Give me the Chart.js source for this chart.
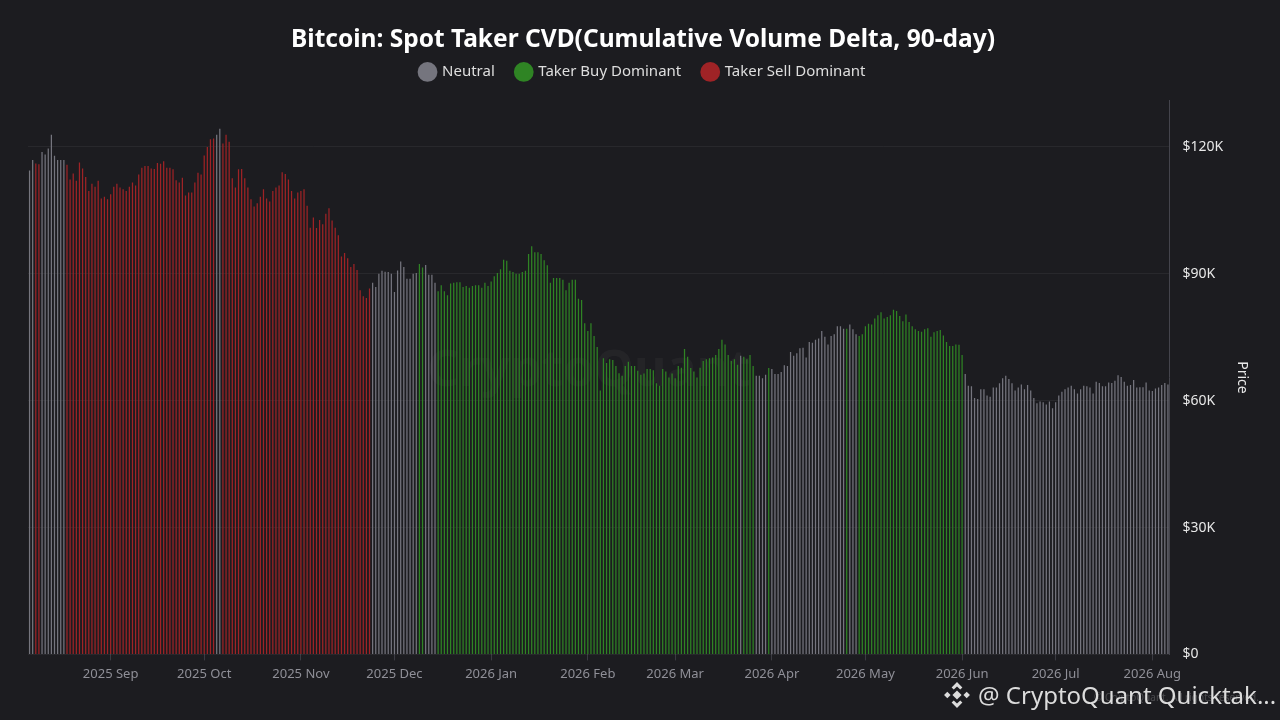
<!DOCTYPE html>
<html>
<head>
<meta charset="utf-8">
<title>Bitcoin: Spot Taker CVD</title>
<script src="https://cdn.jsdelivr.net/npm/chart.js@4.4.1/dist/chart.umd.min.js"></script>
<style>
  html, body { margin: 0; padding: 0; background: #1c1c20; }
  #wrap { position: relative; width: 1280px; height: 720px; overflow: hidden; }
  #credit {
    position: absolute; left: 943px; top: 678px;
    font-family: "Noto Sans", sans-serif; font-size: 24px; color: #dcdcdc;
    white-space: nowrap; display: flex; align-items: center;
  }
  #credit svg { margin-right: 7px; }
  #rights {
    position: absolute; left: 1094px; top: 690px;
    font-family: "Noto Sans", sans-serif; font-size: 10px; color: rgba(255,255,255,0.2);
    white-space: nowrap;
  }
</style>
</head>
<body>
<div id="wrap">
  <canvas id="cvdChart" width="1280" height="720"></canvas>
  <div id="rights">© CryptoQuant. All rights reserved.</div>
  <div id="credit">
    <svg width="28" height="28" viewBox="0 0 26 26">
      <g fill="#dcdcdc">
        <rect x="10" y="10" width="6" height="6" transform="rotate(45 13 13)"/>
        <polygon points="13,1 18,6 16,8 13,5 10,8 8,6"/>
        <polygon points="13,25 18,20 16,18 13,21 10,18 8,20"/>
        <polygon points="1,13 4,10 7,13 4,16"/>
        <polygon points="25,13 22,10 19,13 22,16"/>
      </g>
    </svg>
    <span>@ CryptoQuant Quicktak...</span>
  </div>
</div>
<script>
// daily BTC price (K USD), from 2025-08-06
var startDate = [2025, 7, 6];
var price = [
  114.4, 116.9, 116.1, 115.9, 118.8, 118.2, 119.6, 122.9, 117.9, 116.9, 116.9, 116.9, 115.8, 112.3, 113.7, 112.0,
  116.3, 114.9, 112.9, 109.6, 111.3, 110.6, 112.0, 107.8, 108.2, 107.6, 108.8, 110.6, 111.3, 110.4, 110.0, 109.6,
  110.6, 111.6, 110.9, 113.5, 115.1, 115.5, 115.5, 114.9, 114.8, 116.2, 116.0, 116.6, 115.1, 115.1, 114.7, 112.1,
  111.6, 112.7, 108.5, 109.2, 109.2, 111.6, 113.9, 113.5, 118.0, 120.0, 121.8, 122.0, 122.9,
  124.3, 120.8, 122.9, 121.2, 112.6, 110.4, 114.7, 114.8, 112.6, 110.4, 107.6, 105.9, 106.7, 108.2, 110.0, 107.8,
  107.1, 109.6, 110.4, 110.9, 114.0, 113.6, 112.3, 109.6, 107.8, 109.2, 109.6, 110.0, 106.1, 100.9, 103.3, 100.8,
  102.7, 101.7, 104.2, 105.5, 102.6, 100.9, 99.1, 94.1, 94.9, 93.7, 91.6, 92.3, 90.9, 86.1, 84.7, 84.3, 86.5,
  87.9, 86.9, 90.0, 90.7, 90.5, 90.4, 90.0, 85.7, 90.8, 92.9, 91.6, 88.8, 88.8, 90.0, 90.2, 92.3, 91.5, 92.1,
  89.8, 89.8, 87.9, 85.9, 87.3, 85.9, 84.9, 87.7, 87.9, 88.0, 88.0, 86.9, 87.1, 86.7, 87.1, 87.3, 87.3, 86.7,
  87.9, 87.1, 88.2, 89.4, 90.2, 91.1, 93.3, 93.1, 90.7, 90.4, 90.0, 90.0, 90.4, 90.7, 94.7, 96.5, 95.1, 95.1,
  94.7, 93.2, 92.0, 87.9, 89.0, 89.0, 89.0, 88.6, 86.1, 87.9, 88.6, 88.6, 84.1, 83.8,
  78.3, 76.5, 78.3, 75.3, 72.7, 62.4, 70.0, 68.9, 69.8, 69.6, 68.2, 66.5, 65.9, 68.2, 69.2, 68.2, 68.2, 67.1,
  66.1, 66.4, 67.5, 67.5, 67.2, 64.1, 63.5, 67.5, 66.9, 65.5, 66.4, 65.3, 68.2, 67.8, 72.2, 70.4, 67.7, 66.9,
  65.5, 67.8, 69.4, 69.8, 70.0, 70.2, 70.8, 72.2, 74.4, 73.3, 70.8, 69.4, 69.8, 68.5, 70.6, 70.4, 69.8, 70.8,
  68.2, 65.9, 65.9, 65.3, 66.1, 67.7, 67.5,
  66.3, 66.3, 66.8, 68.4, 68.2, 71.5, 70.6, 71.2, 72.4, 72.5, 70.2, 73.9, 73.7, 74.4, 74.7, 76.5, 75.1, 73.3,
  75.3, 75.7, 77.6, 77.6, 77.0, 77.0, 78.0, 76.9, 75.7, 75.3, 75.7, 77.6, 78.2, 78.0, 79.4, 80.2, 80.9, 79.4,
  79.8, 80.2, 81.5, 81.2, 80.0, 78.8, 80.4, 78.6, 77.6, 76.9, 76.5, 76.3, 76.9, 77.1, 75.1, 76.2, 76.5, 76.7,
  75.4, 73.9, 72.9, 72.9, 73.3, 73.2, 70.8,
  66.3, 63.5, 63.4, 60.6, 60.4, 62.7, 62.7, 61.2, 60.9, 63.1, 63.1, 64.1, 65.3, 65.9, 65.1, 64.1, 62.4, 63.1,
  63.8, 62.7, 63.7, 62.4, 60.6, 59.4, 59.8, 59.6, 59.1, 59.8, 58.2, 59.6, 61.2, 62.1, 62.7, 63.1, 63.5, 62.7,
  61.7, 62.7, 63.5, 63.4, 63.1, 61.7, 64.5, 64.2, 63.4, 63.4, 64.3, 64.2, 64.7, 66.0, 65.6, 64.5, 63.5, 63.7,
  64.9, 63.1, 63.2, 63.2, 64.3, 62.4, 62.3, 62.9, 63.1, 63.7, 64.2, 63.8
];
// regime runs: N = neutral, B = taker buy dominant, S = taker sell dominant
var regimeRuns = [
  ['N', 2], ['S', 2], ['N', 8], ['S', 48], ['N', 2], ['S', 48], ['N', 15], ['B', 2], ['N', 4],
  ['B', 97], ['N', 1], ['B', 4], ['N', 4], ['B', 1], ['N', 24], ['B', 1], ['N', 3], ['B', 34], ['N', 66]
];
var seriesNames = ['Neutral', 'Taker Buy Dominant', 'Taker Sell Dominant'];
var seriesCodes = ['N', 'B', 'S'];
var seriesColors = ['#75757e', '#2f8424', '#9f2326'];
var yTicks = [0, 30, 60, 90, 120];
var monthNames = ['Jan', 'Feb', 'Mar', 'Apr', 'May', 'Jun', 'Jul', 'Aug', 'Sep', 'Oct', 'Nov', 'Dec'];

var FONT = '"Noto Sans", "Open Sans", sans-serif';

// expand runs to one code per bar
var regime = [];
regimeRuns.forEach(function (r) {
  for (var i = 0; i < r[1]; i++) regime.push(r[0]);
});

// one date label per bar
var labels = [];
var d = new Date(Date.UTC(startDate[0], startDate[1], startDate[2]));
for (var i = 0; i < price.length; i++) {
  labels.push(d.toISOString().slice(0, 10));
  d.setUTCDate(d.getUTCDate() + 1);
}

var datasets = seriesCodes.map(function (code, k) {
  return {
    label: seriesNames[k],
    data: price.map(function (v, i) { return regime[i] === code ? v : null; }),
    backgroundColor: seriesColors[k],
    borderWidth: 0,
    barPercentage: 0.4,
    categoryPercentage: 1,
    grouped: false
  };
});

// faint logo text in the middle of the plot
var watermark = {
  id: 'watermark',
  beforeDatasetsDraw: function (chart) {
    var ctx = chart.ctx, a = chart.chartArea;
    ctx.save();
    ctx.fillStyle = 'rgba(255,255,255,0.035)';
    ctx.font = 'bold 50px ' + FONT;
    ctx.textAlign = 'center';
    ctx.textBaseline = 'middle';
    ctx.fillText('CryptoQuant', (a.left + a.right) / 2 - 10, 372);
    ctx.restore();
  }
};

// a bit more room between legend and plot
var legendGap = {
  id: 'legendGap',
  beforeInit: function (chart) {
    var fit = chart.legend.fit;
    chart.legend.fit = function () {
      fit.bind(chart.legend)();
      this.height += 11;
    };
  }
};

var ctx = document.getElementById('cvdChart').getContext('2d');
var chart = new Chart(ctx, {
  type: 'bar',
  data: { labels: labels, datasets: datasets },
  plugins: [watermark, legendGap],
  options: {
    responsive: false,
    animation: false,
    layout: { padding: { left: 28, right: 22, top: 14, bottom: 32 } },
    plugins: {
      title: {
        display: true,
        text: 'Bitcoin: Spot Taker CVD(Cumulative Volume Delta, 90-day)',
        color: '#ffffff',
        font: { family: FONT, size: 24.5, weight: 'bold' },
        padding: { top: 11, bottom: -12 }
      },
      legend: {
        display: true,
        labels: {
          color: '#dedede',
          font: { family: FONT, size: 15 },
          usePointStyle: true,
          pointStyle: 'circle',
          boxWidth: 14,
          boxHeight: 14,
          padding: 22
        }
      },
      tooltip: { enabled: false }
    },
    scales: {
      x: {
        grid: { display: true, offset: false, drawOnChartArea: false, drawTicks: true, tickLength: 6, color: '#3a3a42' },
        border: { display: false },
        ticks: {
          autoSkip: false,
          maxRotation: 0,
          color: '#8f8f97',
          font: { family: FONT, size: 13 },
          padding: 6,
          callback: function (val, idx) {
            var s = labels[idx];
            if (s.slice(8) !== '01') return null;
            return s.slice(0, 4) + ' ' + monthNames[parseInt(s.slice(5, 7), 10) - 1];
          }
        }
      },
      y: {
        position: 'right',
        min: 0,
        max: 131,
        afterBuildTicks: function (axis) {
          axis.ticks = yTicks.map(function (v) { return { value: v }; });
        },
        grid: { color: 'rgba(255,255,255,0.055)', drawTicks: false },
        border: { display: true, color: '#44444c' },
        ticks: {
          color: '#e8e8e8',
          font: { family: FONT, size: 14 },
          padding: 13,
          callback: function (v) { return v === 0 ? '$0' : '$' + v + 'K'; }
        },
        title: {
          display: true,
          text: 'Price',
          color: '#e8e8e8',
          font: { family: FONT, size: 14 },
          padding: { top: 8, bottom: -3 }
        }
      }
    }
  }
});
</script>
</body>
</html>
